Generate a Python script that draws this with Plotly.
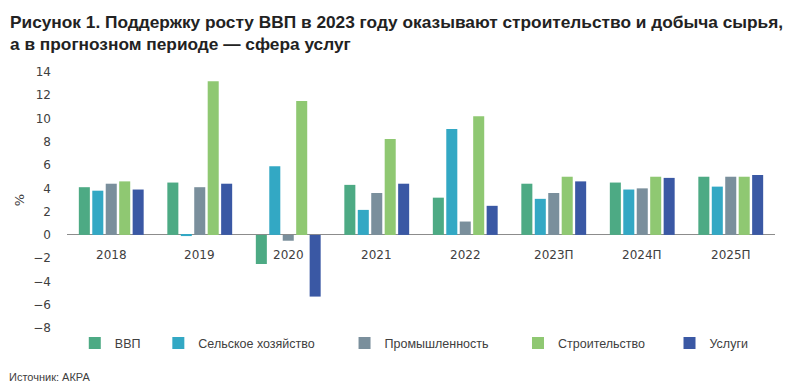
import plotly.graph_objects as go

categories = ["2018", "2019", "2020", "2021", "2022", "2023П", "2024П", "2025П"]
series_names = ["ВВП", "Сельское хозяйство", "Промышленность", "Строительство", "Услуги"]
vvp = [4.1, 4.5, -2.5, 4.3, 3.2, 4.4, 4.5, 5.0]
agro = [3.8, -0.1, 5.9, 2.15, 9.1, 3.1, 3.9, 4.15]
industry = [4.4, 4.1, -0.5, 3.6, 1.15, 3.6, 4.0, 5.0]
construction = [4.6, 13.2, 11.5, 8.25, 10.2, 5.0, 5.0, 5.0]
services = [3.9, 4.4, -5.3, 4.4, 2.5, 4.6, 4.9, 5.15]
y_ticks = [14, 12, 10, 8, 6, 4, 2, 0, -2, -4, -6, -8]

colors = ["#4daa84", "#33a8c4", "#7a8f9c", "#8fc872", "#3a58a4"]
values = [vvp, agro, industry, construction, services]
legend_ids = ["legend", "legend2", "legend3", "legend4", "legend5"]
legend_x = [0.011, 0.129, 0.392, 0.637, 0.851]

font_main = "Liberation Sans, Arial, sans-serif"
font_tick = "DejaVu Sans, sans-serif"

x_pos = list(range(len(categories)))

fig = go.Figure()
for name, vals, col, lid in zip(series_names, values, colors, legend_ids):
    fig.add_trace(go.Bar(x=x_pos, y=vals, name=name, marker_color=col,
                         marker_line_width=0, legend=lid))

for xp, c in zip(x_pos, categories):
    fig.add_annotation(x=xp, y=-1.75, xref="x", yref="y", text=c, showarrow=False,
                       font=dict(family=font_tick, size=12, color="#404040"))

fig.add_annotation(x=-0.085, y=-0.193, xref="paper", yref="paper", yanchor="middle",
                   xanchor="left", text="Источник: АКРА", showarrow=False,
                   font=dict(family=font_main, size=11, color="#404040"))

legend_layout = {}
for lid, lx in zip(legend_ids, legend_x):
    legend_layout[lid] = dict(orientation="h", x=lx, xanchor="left", y=-0.06,
                              yanchor="middle", itemwidth=30,
                              font=dict(family=font_main, size=12.5, color="#404040"),
                              bgcolor="rgba(0,0,0,0)")

fig.update_layout(
    width=800, height=389,
    margin=dict(l=59, r=33, t=64, b=69, autoexpand=False),
    paper_bgcolor="white", plot_bgcolor="white",
    barmode="group", bargap=0.24, bargroupgap=0.18,
    title=dict(text="<b>Рисунок 1. Поддержку росту ВВП в 2023 году оказывают строительство и добыча сырья,<br>а в прогнозном периоде — сфера услуг</b>",
               x=2 / 800, xanchor="left", xref="container",
               y=1 - 20 / 389, yanchor="middle", yref="container",
               font=dict(family=font_main, size=17.3, color="#222222")),
    xaxis=dict(range=[-0.5, len(categories) - 0.5], tickvals=x_pos, ticktext=categories,
               showticklabels=False, showline=False, showgrid=False,
               zeroline=False, ticks=""),
    yaxis=dict(range=[-8, 14], tickvals=y_ticks, showgrid=False, zeroline=True,
               zerolinecolor="#8c8c8c", zerolinewidth=1, showline=False,
               tickfont=dict(family=font_tick, size=12, color="#404040"),
               ticklabelstandoff=15,
               title=dict(text="%", font=dict(family=font_tick, size=13, color="#404040"),
                          standoff=5)),
    showlegend=True,
    **legend_layout,
)

fig.write_html("out.html")
